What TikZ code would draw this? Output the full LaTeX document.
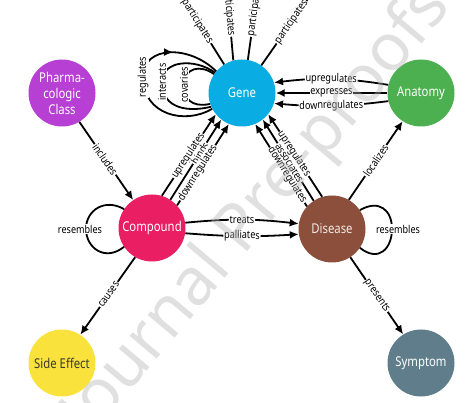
\documentclass[tikz,border=0pt]{standalone}
\usepackage{fontspec}
\setmainfont{Noto Sans}[FakeStretch=0.84]
\newfontfamily\wmfont{Noto Sans}
\usetikzlibrary{arrows.meta,decorations.markings}
\definecolor{cgene}{HTML}{0AADE3}
\definecolor{canat}{HTML}{4CAF50}
\definecolor{cpharm}{HTML}{B73FD3}
\definecolor{ccomp}{HTML}{E91E63}
\definecolor{cdis}{HTML}{8B4F3B}
\definecolor{cside}{HTML}{F9E23C}
\definecolor{csym}{HTML}{607D8B}
\definecolor{tdis}{HTML}{F3E9E4}
\definecolor{tside}{HTML}{3C3A2A}
\begin{document}
\begin{tikzpicture}[x=1pt,y=-1pt,
  ent/.style={circle,minimum size=67pt,inner sep=0pt,font=\fontsize{13.5}{16}\selectfont,text=white,align=center},
  rel/.style={draw=black,line width=1.8pt,-{Latex[length=9pt,width=8pt]}},
  plain/.style={draw=black,line width=1.8pt},
  lab/.style={fill=white,inner sep=0.8pt,font=\fontsize{10.8}{12}\selectfont,sloped},
  flab/.style={fill=white,inner sep=0.8pt,font=\fontsize{10.8}{12}\selectfont},
  midarrow/.style={postaction={decorate},decoration={markings,mark=at position #1 with {\arrow{Latex[length=9pt,width=8pt]}}}}]
\useasboundingbox (0,0) rectangle (474,403);
\clip (0,0) rectangle (474,403);
% nodes
\node[ent,fill=cgene] (gene) at (242,93) {Gene};
\node[ent,fill=canat] (anat) at (421,93) {Anatomy};
\node[ent,fill=cpharm] (pharm) at (62,93) {Pharma-\\cologic\\Class};
\node[ent,fill=ccomp] (comp) at (152,228) {Compound};
\node[ent,fill=cdis,text=tdis] (dis) at (332,229) {Disease};
\node[ent,fill=cside,text=tside] (side) at (62,363) {Side Effect};
\node[ent,fill=csym] (sym) at (421,363) {Symptom};
\coordinate (p1) at (160.6,-37.2);
\coordinate (p2) at (222.8,-58.9);
\coordinate (p3) at (264.5,-58.8);
\coordinate (p4) at (330,-32.7);
% connector lines
\draw[plain] (gene.122) -- (p1);
\draw[plain] (gene.105) -- (p2);
\draw[plain] (gene.80) -- (p3);
\draw[plain] (gene.55) -- (p4);
\draw[plain,midarrow=0.74] (gene.208) .. controls (185,125) and (143,115) .. (143,77) .. controls (143,45) and (190,45) .. (gene.140);
\draw[plain] (gene.204) .. controls (190,112) and (162,110) .. (162,82) .. controls (162,60) and (195,58) .. (gene.143);
\draw[plain] (gene.199) .. controls (200,106) and (184,106) .. (184,85) .. controls (184,68) and (200,64) .. (gene.146);
\draw[plain] (comp.146) .. controls (105,198) and (86,210) .. (86,229) .. controls (86,248) and (105,262) .. (comp.214);
\draw[plain] (dis.34) .. controls (379,199) and (392,210) .. (392,229) .. controls (392,248) and (379,263) .. (dis.-34);
\draw[rel] (comp.73) -- (gene.219);
\draw[rel] (comp.57) -- (gene.232);
\draw[rel] (comp.42) -- (gene.247);
\draw[rel] (dis.138) -- (gene.293);
\draw[rel] (dis.123) -- (gene.308);
\draw[rel] (dis.107) -- (gene.321);
\draw[rel] (anat.166) to[bend right=8] (gene.18);
\draw[rel] (anat.180) -- (gene.0);
\draw[rel] (anat.194) to[bend left=6] (gene.-18);
\draw[rel] (comp.9) to[bend left=6] (dis.171);
\draw[rel] (comp.-9) to[bend right=4] (dis.189);
\draw[rel] (pharm.-59) -- (comp.124);
\draw[rel] (comp.240) -- (side.57);
\draw[rel] (dis.60) -- (anat.237);
\draw[rel] (dis.-57) -- (sym.122);
% labels
\path (gene.122) -- node[lab,pos=0.425] (l1) {participates} (p1);
\path (gene.105) -- node[lab,pos=0.415] (l2) {participates} (p2);
\path (gene.80) -- node[lab,pos=0.41] (l3) {participates} (p3);
\path (gene.55) -- node[lab,pos=0.44] (l4) {participates} (p4);
\node[flab,rotate=90] (lreg) at (143,77) {regulates};
\node[flab,rotate=90] (lint) at (162,82) {interacts};
\node[flab,rotate=90] (lcov) at (184,85) {covaries};
\node[flab] (lcres) at (80,229) {resembles};
\node[flab] (ldres) at (398,229) {resembles};
\path (comp.73) -- node[lab,pos=0.49] (lcu) {upregulates} (gene.219);
\path (comp.57) -- node[lab,pos=0.58] (lcb) {binds} (gene.232);
\path (comp.42) -- node[lab,pos=0.40] (lcd) {downregulates} (gene.247);
\path (dis.138) -- node[lab,pos=0.38] (ldd) {downregulates} (gene.293);
\path (dis.123) -- node[lab,pos=0.47] (lda) {associates} (gene.308);
\path (dis.107) -- node[lab,pos=0.52] (ldu) {upregulates} (gene.321);
\path (anat.166) to[bend right=8] node[lab,pos=0.5] (lau) {upregulates} (gene.18);
\path (anat.180) -- node[lab,pos=0.5] (lae) {expresses} (gene.0);
\path (anat.194) to[bend left=6] node[lab,pos=0.5] (lad) {downregulates} (gene.-18);
\path (comp.9) to[bend left=6] node[lab,pos=0.5] (lt) {treats} (dis.171);
\path (comp.-9) to[bend right=4] node[lab,pos=0.5] (lp) {palliates} (dis.189);
\path (pharm.-59) -- node[lab,pos=0.48] (li) {includes} (comp.124);
\path (comp.240) -- node[lab,pos=0.48] (lc) {causes} (side.57);
\path (dis.60) -- node[lab,pos=0.5] (ll) {localizes} (anat.237);
\path (dis.-57) -- node[lab,pos=0.5] (lpr) {presents} (sym.122);
% watermark, faint, over the picture
\node[rotate=50,text=black!30,text opacity=0.4,font=\wmfont\bfseries\fontsize{66}{66}\selectfont] (wm) at (258,212) {Journal Pre-proofs};
\end{tikzpicture}
\end{document}
